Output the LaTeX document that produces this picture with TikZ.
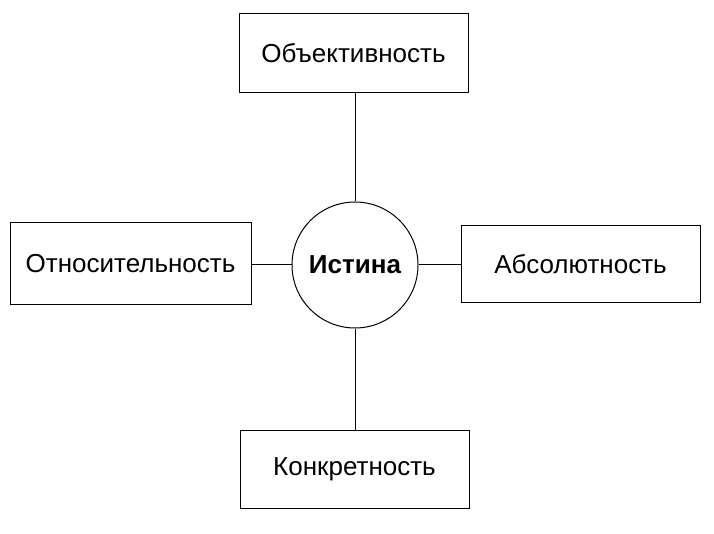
\documentclass[tikz,border=0pt]{standalone}
\usepackage{fontspec}
\setmainfont{Liberation Sans}
\begin{document}
\begin{tikzpicture}[x=1pt,y=-1pt,
  bx/.style={draw,line width=1pt,minimum height=79pt,inner sep=0pt,font=\fontsize{26}{30}\selectfont},
  ln/.style={line width=1pt}]
\useasboundingbox (0,0) rectangle (714,534);
\node[draw,circle,line width=1pt,minimum size=126pt,inner sep=0pt,font=\bfseries\fontsize{26}{30}\selectfont] (c) at (355,265) {Истина};
\node[bx,minimum width=229pt] (t) at (353.5,53) {Объективность};
\node[bx,minimum width=241pt,minimum height=82pt] (l) at (130.5,264) {Относительность};
\node[bx,minimum width=239pt,minimum height=77pt] (r) at (580.5,264) {Абсолютность};
\node[bx,minimum width=229pt,minimum height=78pt] (b) at (354.5,469) {Конкретность};
\draw[ln] (t.south -| c) -- (c.north);
\draw[ln] (b.north -| c) -- (c.south);
\draw[ln] (l.east |- c) -- (c.west);
\draw[ln] (r.west |- c) -- (c.east);
\end{tikzpicture}
\end{document}
